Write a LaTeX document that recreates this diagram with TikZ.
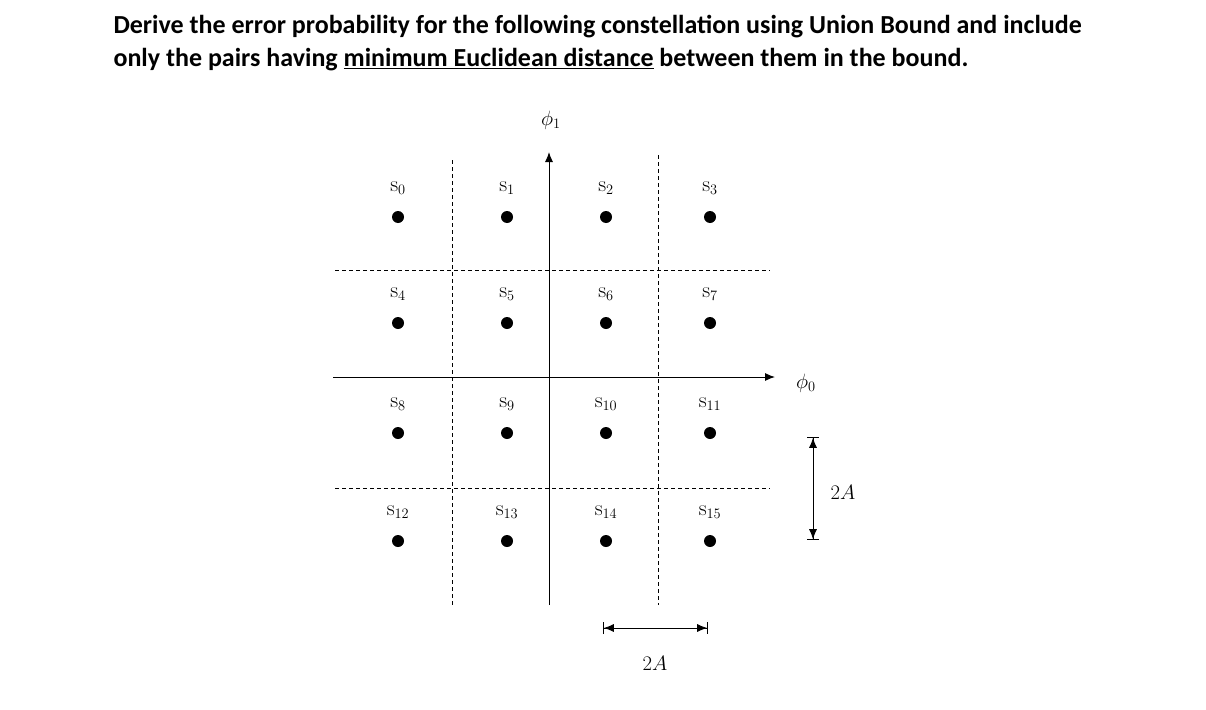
\documentclass[tikz,border=0pt]{standalone}
\usepackage{fontspec}
\newfontfamily\titlefont{Carlito}
\usetikzlibrary{arrows.meta}
\begin{document}
\begin{tikzpicture}[x=1pt,y=-1pt,
  pt/.style={circle,fill=black,inner sep=0pt,minimum size=12pt},
  lab/.style={font=\fontsize{22}{22}\selectfont},
  dsh/.style={dashed,dash pattern=on 4pt off 3pt,line width=0.8pt},
  ax/.style={line width=1pt,-{Latex[length=10pt,width=8pt]}},
  dim/.style={line width=0.8pt,{Bar[width=12pt]Latex[length=10pt,width=8pt]}-{Latex[length=10pt,width=8pt]Bar[width=12pt]}}]
\useasboundingbox (0,0) rectangle (1206,709);
\node[anchor=west,font=\titlefont\bfseries\fontsize{26}{26}\selectfont] (t1) at (110,27) {Derive the error probability for the following constellation using Union Bound and include};
\node[anchor=west,font=\titlefont\bfseries\fontsize{26}{26}\selectfont] (t2) at (110,60) {only the pairs having \underline{minimum Euclidean distance} between them in the bound.};
% dashed lines
\draw[dsh] (452,160) -- (452,605);
\draw[dsh] (658,155) -- (658,605);
\draw[dsh] (335,270) -- (770,270);
\draw[dsh] (335,488) -- (770,488);
% axes
\coordinate (vb) at (549,605); \coordinate (vt) at (549,152);
\coordinate (hl) at (333,377); \coordinate (hr) at (775,377);
\draw[ax] (vb) -- (vt);
\draw[ax] (hl) -- (hr);
\node[lab] (p1) at (551,120) {$\phi_1$};
\node[lab] (p0) at (806,383) {$\phi_0$};
% points
\foreach \r/\y in {0/217,1/323,2/433,3/541}{
  \foreach \c/\x in {0/398,1/507,2/606,3/710}{
    \pgfmathtruncatemacro{\k}{4*\r+\c}
    \node[pt] (s\k) at (\x,\y) {};
    \node[lab] (l\k) at (\x,\y-29) {s$_{\k}$};
  }}
% dimensions
\coordinate (d1) at (603,628); \coordinate (d2) at (708,628);
\draw[dim] (d1) -- (d2);
\node[lab] (dl1) at (655,663) {$2A$};
\coordinate (e1) at (813,437); \coordinate (e2) at (813,540);
\draw[dim] (e1) -- (e2);
\node[lab] (dl2) at (843,492) {$2A$};
\end{tikzpicture}
\end{document}
